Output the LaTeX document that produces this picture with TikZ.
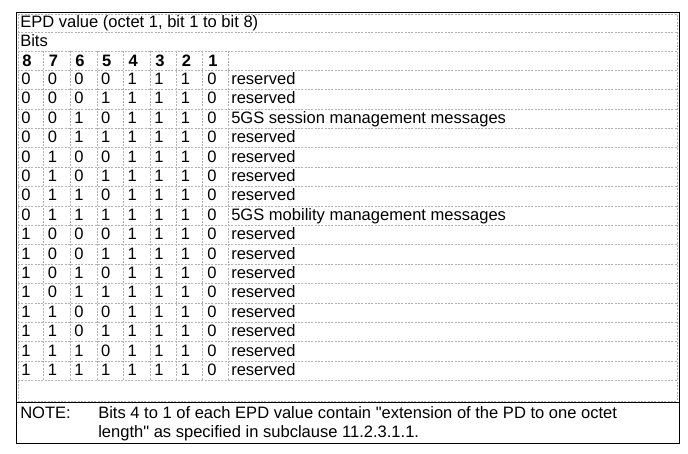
\documentclass[tikz,border=0pt]{standalone}
\usepackage{fontspec}
\setmainfont{Liberation Sans}[Ligatures=TeXOff]
\begin{document}
\begin{tikzpicture}[x=0.75pt,y=-0.75pt,
  txt/.style={anchor=base west,inner sep=0pt,font=\fontsize{12.4}{14}\selectfont},
  bold/.style={txt,font=\fontsize{12.4}{14}\selectfont\bfseries},
  grid/.style={gray!60,dashed,line width=0.4pt,dash pattern=on 1.5pt off 1pt}]
\useasboundingbox (0,0) rectangle (688,453);
% grid lines
\foreach \y in {32,51,70} \draw[grid] (18,\y) -- (677,\y);
\foreach \i in {1,...,16} \draw[grid] (18,{70+19.4*\i}) -- (677,{70+19.4*\i});
\foreach \x in {43,70,97,123,150,176,202,228} \draw[grid] (\x,51) -- (\x,380.4);
\draw[grid] (18,14) rectangle (677,401);
\draw[line width=0.6pt] (16,12) rectangle (679,443);
\draw[line width=0.6pt] (16,402) -- (679,402);
\node[txt] (t1) at (20,28) {EPD value (octet 1, bit 1 to bit 8)};
\node[txt] (t2) at (20,47) {Bits};
\foreach \b [count=\k] in {8,7,6,5,4,3,2,1}
  \node[bold] (h\k) at ({22+26.6*(\k-1)},66) {\b};
\foreach \r [count=\i] in {
 {0,0,0,0,1,1,1,0,reserved},{0,0,0,1,1,1,1,0,reserved},
 {0,0,1,0,1,1,1,0,5GS session management messages},{0,0,1,1,1,1,1,0,reserved},
 {0,1,0,0,1,1,1,0,reserved},{0,1,0,1,1,1,1,0,reserved},
 {0,1,1,0,1,1,1,0,reserved},{0,1,1,1,1,1,1,0,5GS mobility management messages},
 {1,0,0,0,1,1,1,0,reserved},{1,0,0,1,1,1,1,0,reserved},
 {1,0,1,0,1,1,1,0,reserved},{1,0,1,1,1,1,1,0,reserved},
 {1,1,0,0,1,1,1,0,reserved},{1,1,0,1,1,1,1,0,reserved},
 {1,1,1,0,1,1,1,0,reserved},{1,1,1,1,1,1,1,0,reserved}}{
  \foreach \v [count=\k] in \r {
    \ifnum\k<9
      \node[txt] (c\i-\k) at ({21+26.6*(\k-1)},{84.5+19.4*(\i-1)}) {\v};
    \else
      \node[txt] (c\i-\k) at (231,{84.5+19.4*(\i-1)}) {\v};
    \fi
  }
}
\node[txt] (note) at (20,418) {NOTE:};
\node[txt] (n1) at (98,418) {Bits 4 to 1 of each EPD value contain "extension of the PD to one octet};
\node[txt] (n2) at (98,437) {length" as specified in subclause 11.2.3.1.1.};
\end{tikzpicture}
\end{document}
